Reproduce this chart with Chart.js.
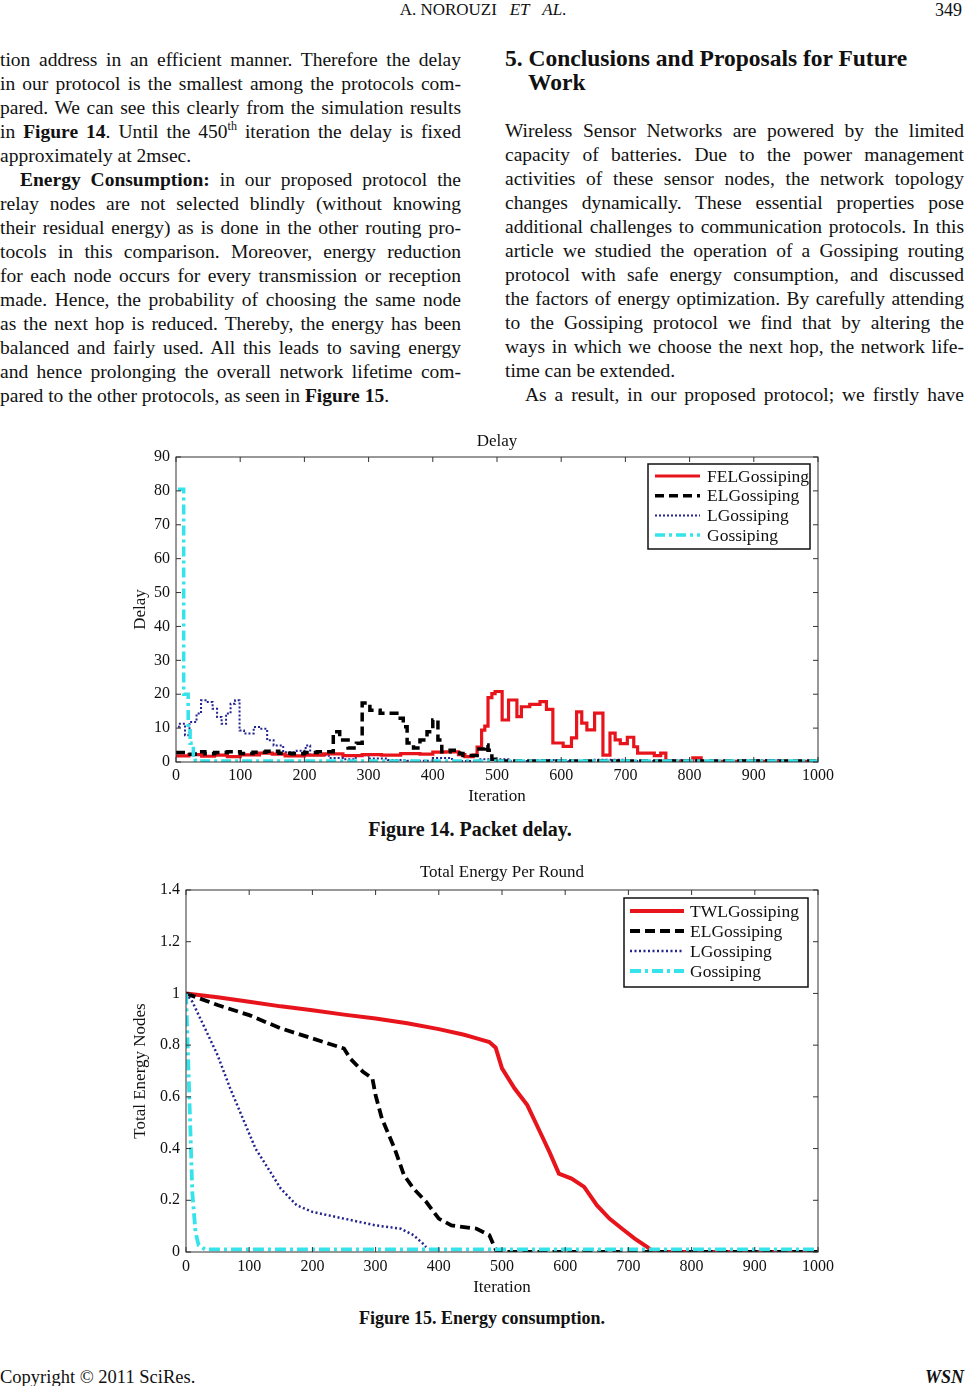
<!DOCTYPE html>
<html lang="en">
<head>
<meta charset="UTF-8">
<title>Packet delay and energy consumption</title>
<style>
  body { margin:0; width:966px; height:1386px; position:relative; background:#fff; color:#111;
         font-family:"Liberation Serif", "Times New Roman", serif; }
  .abs { position:absolute; }
  .col { position:absolute; font-size:19.5px; line-height:24px; }
  .j { text-align:justify; text-align-last:justify; }
  .ind { text-indent:20px; }
  sup { font-size:12px; line-height:0; vertical-align:8px; }
  h2 { margin:0; font-size:23.5px; line-height:24px; font-weight:bold; padding-left:23px; text-indent:-23px; white-space:nowrap; }
  .cap { position:absolute; width:400px; text-align:center; font-weight:bold; line-height:24px; }
  canvas { position:absolute; }
</style>
</head>
<body>

<div class="abs" style="top:0;left:0;width:966px;text-align:center;font-size:17px;line-height:20px;">A. NOROUZI&nbsp;&nbsp; <i>ET</i>&nbsp;&nbsp; <i>AL</i>.</div>
<div class="abs" style="top:0;right:4px;font-size:18px;line-height:20px;">349</div>

<div class="col" style="left:0;top:48px;width:461px;">
  <div class="j">tion address in an efficient manner. Therefore the delay</div>
  <div class="j">in our protocol is the smallest among the protocols com-</div>
  <div class="j">pared. We can see this clearly from the simulation results</div>
  <div class="j">in <b>Figure 14</b>. Until the 450<sup>th</sup> iteration the delay is fixed</div>
  <div>approximately at 2msec.</div>
  <div class="j ind"><b>Energy Consumption:</b> in our proposed protocol the</div>
  <div class="j">relay nodes are not selected blindly (without knowing</div>
  <div class="j">their residual energy) as is done in the other routing pro-</div>
  <div class="j">tocols in this comparison. Moreover, energy reduction</div>
  <div class="j">for each node occurs for every transmission or reception</div>
  <div class="j">made. Hence, the probability of choosing the same node</div>
  <div class="j">as the next hop is reduced. Thereby, the energy has been</div>
  <div class="j">balanced and fairly used. All this leads to saving energy</div>
  <div class="j">and hence prolonging the overall network lifetime com-</div>
  <div>pared to the other protocols, as seen in <b>Figure 15</b>.</div>
</div>

<div class="col" style="left:505px;top:46px;width:459px;">
  <h2>5. Conclusions and Proposals for Future<br>Work</h2>
</div>
<div class="col" style="left:505px;top:119px;width:459px;">
  <div class="j">Wireless Sensor Networks are powered by the limited</div>
  <div class="j">capacity of batteries. Due to the power management</div>
  <div class="j">activities of these sensor nodes, the network topology</div>
  <div class="j">changes dynamically. These essential properties pose</div>
  <div class="j">additional challenges to communication protocols. In this</div>
  <div class="j">article we studied the operation of a Gossiping routing</div>
  <div class="j">protocol with safe energy consumption, and discussed</div>
  <div class="j">the factors of energy optimization. By carefully attending</div>
  <div class="j">to the Gossiping protocol we find that by altering the</div>
  <div class="j">ways in which we choose the next hop, the network life-</div>
  <div>time can be extended.</div>
  <div class="j ind">As a result, in our proposed protocol; we firstly have</div>
</div>

<canvas id="delayChart" width="710" height="390" style="left:130px;top:425px;"></canvas>
<div class="cap" style="left:270px;top:817px;font-size:20px;">Figure 14. Packet delay.</div>

<canvas id="energyChart" width="710" height="445" style="left:130px;top:860px;"></canvas>
<div class="cap" style="left:282px;top:1306px;font-size:18px;">Figure 15. Energy consumption.</div>

<div class="abs" style="left:0;top:1365px;font-size:18.5px;line-height:24px;">Copyright © 2011 SciRes.</div>
<div class="abs" style="right:2px;top:1365px;font-size:18px;line-height:24px;font-weight:bold;font-style:italic;">WSN</div>

<script src="https://cdn.jsdelivr.net/npm/chart.js"></script>
<script>
const FONT = "'Liberation Serif', 'Times New Roman', serif"
Chart.defaults.font.family = FONT
Chart.defaults.color = '#111'

// Figure 14: delay per iteration (step values)
const felIter  = [0, 20, 40, 60, 80, 100, 130, 150, 170, 200, 230, 260, 290, 320, 350, 380, 400, 420, 440, 450,
                  463, 469, 476, 481, 486, 492, 497, 508, 518, 531, 538, 551, 567, 577, 587, 603, 616, 624, 632, 640,
                  652, 665, 676, 684, 692, 703, 713, 719, 745, 755, 763, 805, 818, 1000]
const felDelay = [1.8, 2.2, 1.7, 2.0, 1.6, 2.1, 2.6, 2.3, 1.8, 2.0, 2.4, 1.9, 2.2, 2.0, 2.5, 2.3, 2.9, 3.0, 2.2, 1.6,
                  2.0, 4.4, 9.4, 10.6, 19.0, 20.2, 20.8, 12.4, 18.3, 13.4, 16.3, 17.0, 17.8, 15.5, 5.6, 4.6, 7.1, 14.8, 11.5, 9.5,
                  14.4, 2.0, 8.5, 6.5, 5.4, 7.3, 4.5, 2.6, 1.9, 2.6, 0.2, 1.2, 0.2, 0.2]

const elIter  = [0, 15, 30, 45, 60, 80, 100, 120, 140, 160, 180, 200, 220, 245, 255, 268, 281, 290, 302, 318,
                 344, 354, 360, 370, 380, 391, 400, 408, 414, 427, 442, 447, 469, 481, 486, 492, 497, 1000]
const elDelay = [2.8, 2.3, 3.0, 2.4, 2.8, 3.0, 2.5, 2.9, 3.2, 2.6, 2.4, 2.8, 3.0, 8.9, 6.5, 4.1, 5.5, 17.4, 15.3, 14.4,
                 12.9, 10.4, 5.6, 4.1, 6.5, 8.9, 12.4, 6.5, 3.0, 3.5, 2.5, 1.9, 3.8, 5.0, 3.5, 0.8, 0.3, 0.3]

const lIter  = [3, 6, 14, 21, 32, 39, 46, 57, 64, 71, 78, 85, 92, 99, 106, 121, 131, 142, 152, 167,
                188, 202, 209, 238, 260, 280, 300, 330, 360, 400, 430, 470, 520, 560, 610, 650, 700, 760, 820, 880,
                940, 1000]
const lDelay = [10.4, 11.3, 7.9, 11.8, 14.3, 18.2, 17.7, 15.7, 13.3, 11.3, 14.3, 17.2, 18.2, 9.3, 8.4, 10.3, 9.8, 6.4, 4.9, 2.9,
                3.3, 4.9, 2.0, 1.2, 0.8, 2.0, 1.0, 0.6, 0.4, 1.2, 0.3, 0.8, 0.3, 0.6, 0.2, 0.7, 0.3, 0.5, 0.2, 0.6,
                0.3, 0.3]

const gIter  = [3, 12, 19, 22, 27, 30, 34, 1000]
const gDelay = [80.5, 20, 10, 5.5, 2, 0.5, 0.3, 0.3]

// Figure 15: normalised total energy per iteration
const twlIter   = [0, 50, 100, 150, 200, 250, 300, 350, 400, 440, 460, 480, 490, 500, 520, 540, 560, 575, 590, 610,
                   630, 650, 670, 690, 710, 730, 740, 1000]
const twlEnergy = [1.0, 0.985, 0.968, 0.95, 0.935, 0.918, 0.903, 0.885, 0.862, 0.84, 0.826, 0.812, 0.79, 0.71, 0.632, 0.568, 0.465, 0.387, 0.303, 0.284,
                   0.252, 0.181, 0.129, 0.09, 0.052, 0.019, 0.0, 0.0]

const elIter2  = [0, 50, 100, 150, 200, 250, 260, 280, 295, 300, 310, 330, 345, 360, 380, 400, 420, 460, 480, 487, 492, 1000]
const elEnergy = [1.0, 0.955, 0.916, 0.865, 0.826, 0.787, 0.748, 0.697, 0.671, 0.606, 0.516, 0.4, 0.297, 0.245, 0.194, 0.129, 0.103, 0.09, 0.065, 0.026, 0.0, 0.0]

const lIter2  = [0, 10, 30, 50, 70, 90, 110, 130, 150, 175, 200, 250, 300, 340, 360, 375, 380]
const lEnergy = [1.0, 0.968, 0.865, 0.761, 0.632, 0.516, 0.4, 0.323, 0.245, 0.181, 0.155, 0.129, 0.103, 0.09, 0.065, 0.032, 0.019]

const gIter2  = [0, 5, 10, 15, 20, 30, 1000]
const gEnergy = [1.0, 0.62, 0.23, 0.077, 0.026, 0.01, 0.01]

const pts = (xs, ys) => xs.map((x, i) => ({ x: x, y: ys[i] }))

const RED = '#e8141c', BLACK = '#000000', NAVY = '#23238f', CYAN = '#35e3ea'

// box round the plot with inward ticks, matlab style, and the title over the plot centre
const boxFrame = {
  id: 'boxFrame',
  afterDatasetsDraw(chart, args, o) {
    const { ctx, chartArea: a, scales } = chart
    const len = 5
    ctx.save()
    ctx.strokeStyle = '#333'
    ctx.lineWidth = 1
    ctx.strokeRect(a.left, a.top, a.right - a.left, a.bottom - a.top)
    ctx.beginPath()
    scales.x.ticks.forEach(t => {
      const p = scales.x.getPixelForValue(t.value)
      ctx.moveTo(p, a.bottom); ctx.lineTo(p, a.bottom - len)
      ctx.moveTo(p, a.top); ctx.lineTo(p, a.top + len)
    })
    scales.y.ticks.forEach(t => {
      const p = scales.y.getPixelForValue(t.value)
      ctx.moveTo(a.left, p); ctx.lineTo(a.left + len, p)
      ctx.moveTo(a.right, p); ctx.lineTo(a.right - len, p)
    })
    ctx.stroke()
    ctx.fillStyle = '#111'
    ctx.font = o.size + 'px ' + FONT
    ctx.textAlign = 'center'
    ctx.textBaseline = 'middle'
    ctx.fillText(o.title, (a.left + a.right) / 2, o.titleY)
    ctx.restore()
  }
}

// legend box drawn inside the plot, top right
const boxLegend = {
  id: 'boxLegend',
  afterDraw(chart, args, o) {
    const { ctx, chartArea: a } = chart
    const left = a.right - o.right - o.width
    const top = a.top + o.top
    ctx.save()
    ctx.fillStyle = '#fff'
    ctx.fillRect(left, top, o.width, o.height)
    ctx.strokeStyle = '#111'
    ctx.lineWidth = 1.5
    ctx.strokeRect(left, top, o.width, o.height)
    ctx.font = o.size + 'px ' + FONT
    ctx.textBaseline = 'middle'
    chart.data.datasets.forEach((ds, i) => {
      const y = top + o.first + i * o.rowH
      ctx.beginPath()
      ctx.setLineDash(ds.borderDash || [])
      ctx.strokeStyle = ds.borderColor
      ctx.lineWidth = ds.borderWidth
      ctx.moveTo(left + o.x0, y)
      ctx.lineTo(left + o.x1, y)
      ctx.stroke()
      ctx.setLineDash([])
      ctx.fillStyle = '#111'
      ctx.fillText(ds.label, left + o.tx, y + 1)
    })
    ctx.restore()
  }
}

function serie(label, xs, ys, color, width, dash, order, stepped) {
  return {
    label: label,
    data: pts(xs, ys),
    borderColor: color,
    borderWidth: width,
    borderDash: dash,
    pointRadius: 0,
    fill: false,
    tension: 0,
    stepped: stepped,
    order: order
  }
}

function scalesFor(yMax, yStep, yWidth, yTitle, yTitleTop, xTickPad, xTitleBottom) {
  return {
    x: {
      type: 'linear', min: 0, max: 1000,
      grid: { display: false, drawTicks: false },
      border: { display: false },
      ticks: { stepSize: 100, padding: xTickPad, maxRotation: 0, autoSkip: false, color: '#111',
               font: { size: 16 }, callback: v => String(v) },
      title: { display: true, text: 'Iteration', color: '#111', font: { size: 17 },
               padding: { top: 0, bottom: xTitleBottom } },
      afterFit: s => { s.height = 53; s.paddingLeft = 0; s.paddingRight = 0 }
    },
    y: {
      min: 0, max: yMax,
      grid: { display: false, drawTicks: false },
      border: { display: false },
      ticks: { stepSize: yStep, padding: 6, color: '#111', font: { size: 16 },
               callback: v => String(Math.round(v * 10) / 10) },
      title: { display: true, text: yTitle, color: '#111', font: { size: 17 },
               padding: { top: yTitleTop, bottom: 0 } },
      afterFit: s => { s.width = yWidth; s.paddingTop = 0; s.paddingBottom = 0 }
    }
  }
}

new Chart(document.getElementById('delayChart'), {
  type: 'line',
  data: {
    datasets: [
      serie('FELGossiping', felIter, felDelay, RED, 3.2, [], 2, true),
      serie('ELGossiping', elIter, elDelay, BLACK, 3.5, [9, 5], 1, true),
      serie('LGossiping', lIter, lDelay, NAVY, 2, [2, 2], 3, true),
      serie('Gossiping', gIter, gDelay, CYAN, 3.5, [10, 4, 3, 4], 0, true)
    ]
  },
  options: {
    responsive: false,
    animation: false,
    layout: { padding: { left: 0, right: 22, top: 32, bottom: 0 } },
    scales: scalesFor(90, 10, 46, 'Delay', 0, 4.5, 7.8),
    plugins: {
      legend: { display: false },
      tooltip: { enabled: false },
      title: { display: false },
      boxFrame: { title: 'Delay', titleY: 16.6, size: 17 },
      boxLegend: { right: 8, top: 7, width: 162, height: 85, first: 12, rowH: 19.7, x0: 7, x1: 52, tx: 59, size: 17.5 }
    }
  },
  plugins: [boxFrame, boxLegend]
})

new Chart(document.getElementById('energyChart'), {
  type: 'line',
  data: {
    datasets: [
      serie('TWLGossiping', twlIter, twlEnergy, RED, 4, [], 2, false),
      serie('ELGossiping', elIter2, elEnergy, BLACK, 3.8, [10, 5], 1, false),
      serie('LGossiping', lIter2, lEnergy, NAVY, 2.5, [2, 2.5], 3, false),
      serie('Gossiping', gIter2, gEnergy, CYAN, 3.8, [11, 4, 3, 4], 0, false)
    ]
  },
  options: {
    responsive: false,
    animation: false,
    layout: { padding: { left: 0, right: 22, top: 30, bottom: 0 } },
    scales: scalesFor(1.4, 0.2, 56, 'Total Energy Nodes', 0.8, 5.5, 6.8),
    plugins: {
      legend: { display: false },
      tooltip: { enabled: false },
      title: { display: false },
      boxFrame: { title: 'Total Energy Per Round', titleY: 12.6, size: 17 },
      boxLegend: { right: 10, top: 8, width: 184, height: 89, first: 13, rowH: 20, x0: 6, x1: 60, tx: 66, size: 17.5 }
    }
  },
  plugins: [boxFrame, boxLegend]
})
</script>
</body>
</html>
